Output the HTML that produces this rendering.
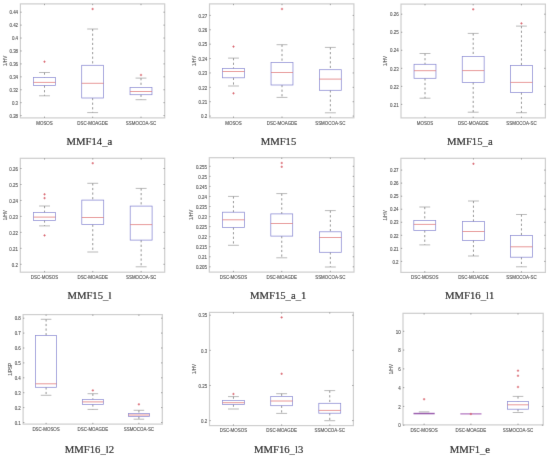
<!DOCTYPE html>
<html><head><meta charset="utf-8"><style>
html,body{margin:0;padding:0;background:#fff;}
svg{display:block;}


.yt,.xt,.yl{font-family:"Liberation Sans",sans-serif;font-size:4.45px;fill:#4a4a4a;stroke:#4a4a4a;stroke-width:0.1px;}
.yt{text-anchor:end;}
.xt{text-anchor:middle;}
.yl{text-anchor:middle;font-size:4.6px;}
.ti{font-family:"Liberation Serif",serif;font-size:10.7px;fill:#111;stroke:#111;stroke-width:0.18px;text-anchor:middle;}
</style></head><body>
<div id="w"><svg width="550" height="457" viewBox="0 0 550 457">
<defs><filter id="bl" x="0" y="0" width="1" height="1"><feConvolveMatrix order="3" kernelMatrix="0 1 0 1 12 1 0 1 0" divisor="16" edgeMode="duplicate"/></filter></defs>
<rect width="550" height="457" fill="#fff"/>
<g filter="url(#bl)">
<rect width="550" height="457" fill="#fff"/>
<rect x="20.40" y="3.90" width="144.30" height="114.00" fill="none" stroke="#cdcdcd" stroke-width="1.2"/>
<path d="M20.40 115.60h1.3M164.70 115.60h-1.3" stroke="#666" stroke-width="0.6"/>
<text x="18.10" y="117.80" class="yt">0.28</text>
<path d="M20.40 102.67h1.3M164.70 102.67h-1.3" stroke="#666" stroke-width="0.6"/>
<text x="18.10" y="104.87" class="yt">0.3</text>
<path d="M20.40 89.75h1.3M164.70 89.75h-1.3" stroke="#666" stroke-width="0.6"/>
<text x="18.10" y="91.95" class="yt">0.32</text>
<path d="M20.40 76.82h1.3M164.70 76.82h-1.3" stroke="#666" stroke-width="0.6"/>
<text x="18.10" y="79.02" class="yt">0.34</text>
<path d="M20.40 63.90h1.3M164.70 63.90h-1.3" stroke="#666" stroke-width="0.6"/>
<text x="18.10" y="66.10" class="yt">0.36</text>
<path d="M20.40 50.98h1.3M164.70 50.98h-1.3" stroke="#666" stroke-width="0.6"/>
<text x="18.10" y="53.18" class="yt">0.38</text>
<path d="M20.40 38.05h1.3M164.70 38.05h-1.3" stroke="#666" stroke-width="0.6"/>
<text x="18.10" y="40.25" class="yt">0.4</text>
<path d="M20.40 25.12h1.3M164.70 25.12h-1.3" stroke="#666" stroke-width="0.6"/>
<text x="18.10" y="27.32" class="yt">0.42</text>
<path d="M20.40 12.20h1.3M164.70 12.20h-1.3" stroke="#666" stroke-width="0.6"/>
<text x="18.10" y="14.40" class="yt">0.44</text>
<path d="M44.50 3.90v1.3M44.50 117.90v-1.3" stroke="#666" stroke-width="0.6"/>
<text x="44.50" y="124.60" class="xt">MOSOS</text>
<path d="M44.50 72.50V77.60" stroke="#757575" stroke-width="0.8" stroke-dasharray="2.2 2.4"/>
<path d="M44.50 85.50V95.80" stroke="#757575" stroke-width="0.8" stroke-dasharray="2.2 2.4"/>
<path d="M39.05 72.50h10.90M39.05 95.80h10.90" stroke="#999999" stroke-width="0.7"/>
<rect x="33.55" y="77.60" width="21.90" height="7.90" fill="none" stroke="#8686d2" stroke-width="0.75"/>
<path d="M33.55 82.40h21.90" stroke="#df7070" stroke-width="0.75"/>
<path d="M43.30 61.70h2.4M44.50 60.50v2.4" stroke="#d85a66" stroke-width="0.8"/>
<path d="M92.65 3.90v1.3M92.65 117.90v-1.3" stroke="#666" stroke-width="0.6"/>
<text x="92.65" y="124.60" class="xt">DSC-MOAGDE</text>
<path d="M92.65 29.00V65.30" stroke="#757575" stroke-width="0.8" stroke-dasharray="2.2 2.4"/>
<path d="M92.65 98.00V112.60" stroke="#757575" stroke-width="0.8" stroke-dasharray="2.2 2.4"/>
<path d="M87.20 29.00h10.90M87.20 112.60h10.90" stroke="#999999" stroke-width="0.7"/>
<rect x="81.70" y="65.30" width="21.90" height="32.70" fill="none" stroke="#8686d2" stroke-width="0.75"/>
<path d="M81.70 83.30h21.90" stroke="#df7070" stroke-width="0.75"/>
<path d="M91.45 9.00h2.4M92.65 7.80v2.4" stroke="#d85a66" stroke-width="0.8"/>
<path d="M141.00 3.90v1.3M141.00 117.90v-1.3" stroke="#666" stroke-width="0.6"/>
<text x="141.00" y="124.60" class="xt">SSMOCOA-SC</text>
<path d="M141.00 78.10V87.40" stroke="#757575" stroke-width="0.8" stroke-dasharray="2.2 2.4"/>
<path d="M141.00 94.70V99.70" stroke="#757575" stroke-width="0.8" stroke-dasharray="2.2 2.4"/>
<path d="M135.55 78.10h10.90M135.55 99.70h10.90" stroke="#999999" stroke-width="0.7"/>
<rect x="130.05" y="87.40" width="21.90" height="7.30" fill="none" stroke="#8686d2" stroke-width="0.75"/>
<path d="M130.05 91.50h21.90" stroke="#df7070" stroke-width="0.75"/>
<path d="M139.80 75.00h2.4M141.00 73.80v2.4" stroke="#d85a66" stroke-width="0.8"/>
<text transform="translate(6.80 60.90) rotate(-90)" class="yl">1/HV</text>
<text x="89.40" y="144.90" class="ti">MMF14_a</text>
<rect x="209.50" y="3.90" width="144.40" height="113.90" fill="none" stroke="#cdcdcd" stroke-width="1.2"/>
<path d="M209.50 116.10h1.3M353.90 116.10h-1.3" stroke="#666" stroke-width="0.6"/>
<text x="207.20" y="118.30" class="yt">0.2</text>
<path d="M209.50 101.71h1.3M353.90 101.71h-1.3" stroke="#666" stroke-width="0.6"/>
<text x="207.20" y="103.91" class="yt">0.21</text>
<path d="M209.50 87.33h1.3M353.90 87.33h-1.3" stroke="#666" stroke-width="0.6"/>
<text x="207.20" y="89.53" class="yt">0.22</text>
<path d="M209.50 72.94h1.3M353.90 72.94h-1.3" stroke="#666" stroke-width="0.6"/>
<text x="207.20" y="75.14" class="yt">0.23</text>
<path d="M209.50 58.56h1.3M353.90 58.56h-1.3" stroke="#666" stroke-width="0.6"/>
<text x="207.20" y="60.76" class="yt">0.24</text>
<path d="M209.50 44.17h1.3M353.90 44.17h-1.3" stroke="#666" stroke-width="0.6"/>
<text x="207.20" y="46.37" class="yt">0.25</text>
<path d="M209.50 29.79h1.3M353.90 29.79h-1.3" stroke="#666" stroke-width="0.6"/>
<text x="207.20" y="31.99" class="yt">0.26</text>
<path d="M209.50 15.40h1.3M353.90 15.40h-1.3" stroke="#666" stroke-width="0.6"/>
<text x="207.20" y="17.60" class="yt">0.27</text>
<path d="M233.50 3.90v1.3M233.50 117.80v-1.3" stroke="#666" stroke-width="0.6"/>
<text x="233.50" y="124.50" class="xt">MOSOS</text>
<path d="M233.50 58.10V68.50" stroke="#757575" stroke-width="0.8" stroke-dasharray="2.2 2.4"/>
<path d="M233.50 77.80V86.00" stroke="#757575" stroke-width="0.8" stroke-dasharray="2.2 2.4"/>
<path d="M228.05 58.10h10.90M228.05 86.00h10.90" stroke="#999999" stroke-width="0.7"/>
<rect x="222.55" y="68.50" width="21.90" height="9.30" fill="none" stroke="#8686d2" stroke-width="0.75"/>
<path d="M222.55 71.50h21.90" stroke="#df7070" stroke-width="0.75"/>
<path d="M232.30 46.60h2.4M233.50 45.40v2.4" stroke="#d85a66" stroke-width="0.8"/>
<path d="M232.30 93.30h2.4M233.50 92.10v2.4" stroke="#d85a66" stroke-width="0.8"/>
<path d="M282.00 3.90v1.3M282.00 117.80v-1.3" stroke="#666" stroke-width="0.6"/>
<text x="282.00" y="124.50" class="xt">DSC-MOAGDE</text>
<path d="M282.00 44.70V62.40" stroke="#757575" stroke-width="0.8" stroke-dasharray="2.2 2.4"/>
<path d="M282.00 85.00V97.40" stroke="#757575" stroke-width="0.8" stroke-dasharray="2.2 2.4"/>
<path d="M276.55 44.70h10.90M276.55 97.40h10.90" stroke="#999999" stroke-width="0.7"/>
<rect x="271.05" y="62.40" width="21.90" height="22.60" fill="none" stroke="#8686d2" stroke-width="0.75"/>
<path d="M271.05 72.50h21.90" stroke="#df7070" stroke-width="0.75"/>
<path d="M280.80 9.00h2.4M282.00 7.80v2.4" stroke="#d85a66" stroke-width="0.8"/>
<path d="M330.35 3.90v1.3M330.35 117.80v-1.3" stroke="#666" stroke-width="0.6"/>
<text x="330.35" y="124.50" class="xt">SSMOCOA-SC</text>
<path d="M330.35 47.40V69.70" stroke="#757575" stroke-width="0.8" stroke-dasharray="2.2 2.4"/>
<path d="M330.35 90.30V112.80" stroke="#757575" stroke-width="0.8" stroke-dasharray="2.2 2.4"/>
<path d="M324.90 47.40h10.90M324.90 112.80h10.90" stroke="#999999" stroke-width="0.7"/>
<rect x="319.40" y="69.70" width="21.90" height="20.60" fill="none" stroke="#8686d2" stroke-width="0.75"/>
<path d="M319.40 79.10h21.90" stroke="#df7070" stroke-width="0.75"/>
<text transform="translate(195.80 60.85) rotate(-90)" class="yl">1/HV</text>
<text x="278.50" y="144.90" class="ti">MMF15</text>
<rect x="401.00" y="4.10" width="144.40" height="113.80" fill="none" stroke="#cdcdcd" stroke-width="1.2"/>
<path d="M401.00 104.40h1.3M545.40 104.40h-1.3" stroke="#666" stroke-width="0.6"/>
<text x="398.70" y="106.60" class="yt">0.21</text>
<path d="M401.00 86.36h1.3M545.40 86.36h-1.3" stroke="#666" stroke-width="0.6"/>
<text x="398.70" y="88.56" class="yt">0.22</text>
<path d="M401.00 68.32h1.3M545.40 68.32h-1.3" stroke="#666" stroke-width="0.6"/>
<text x="398.70" y="70.52" class="yt">0.23</text>
<path d="M401.00 50.28h1.3M545.40 50.28h-1.3" stroke="#666" stroke-width="0.6"/>
<text x="398.70" y="52.48" class="yt">0.24</text>
<path d="M401.00 32.24h1.3M545.40 32.24h-1.3" stroke="#666" stroke-width="0.6"/>
<text x="398.70" y="34.44" class="yt">0.25</text>
<path d="M401.00 14.20h1.3M545.40 14.20h-1.3" stroke="#666" stroke-width="0.6"/>
<text x="398.70" y="16.40" class="yt">0.26</text>
<path d="M425.00 4.10v1.3M425.00 117.90v-1.3" stroke="#666" stroke-width="0.6"/>
<text x="425.00" y="124.60" class="xt">MOSOS</text>
<path d="M425.00 53.50V64.30" stroke="#757575" stroke-width="0.8" stroke-dasharray="2.2 2.4"/>
<path d="M425.00 78.30V98.20" stroke="#757575" stroke-width="0.8" stroke-dasharray="2.2 2.4"/>
<path d="M419.55 53.50h10.90M419.55 98.20h10.90" stroke="#999999" stroke-width="0.7"/>
<rect x="414.05" y="64.30" width="21.90" height="14.00" fill="none" stroke="#8686d2" stroke-width="0.75"/>
<path d="M414.05 70.70h21.90" stroke="#df7070" stroke-width="0.75"/>
<path d="M473.20 4.10v1.3M473.20 117.90v-1.3" stroke="#666" stroke-width="0.6"/>
<text x="473.20" y="124.60" class="xt">DSC-MOAGDE</text>
<path d="M473.20 33.40V56.40" stroke="#757575" stroke-width="0.8" stroke-dasharray="2.2 2.4"/>
<path d="M473.20 82.40V112.20" stroke="#757575" stroke-width="0.8" stroke-dasharray="2.2 2.4"/>
<path d="M467.75 33.40h10.90M467.75 112.20h10.90" stroke="#999999" stroke-width="0.7"/>
<rect x="462.25" y="56.40" width="21.90" height="26.00" fill="none" stroke="#8686d2" stroke-width="0.75"/>
<path d="M462.25 70.60h21.90" stroke="#df7070" stroke-width="0.75"/>
<path d="M472.00 9.30h2.4M473.20 8.10v2.4" stroke="#d85a66" stroke-width="0.8"/>
<path d="M521.45 4.10v1.3M521.45 117.90v-1.3" stroke="#666" stroke-width="0.6"/>
<text x="521.45" y="124.60" class="xt">SSMOCOA-SC</text>
<path d="M521.45 26.10V65.60" stroke="#757575" stroke-width="0.8" stroke-dasharray="2.2 2.4"/>
<path d="M521.45 92.50V112.70" stroke="#757575" stroke-width="0.8" stroke-dasharray="2.2 2.4"/>
<path d="M516.00 26.10h10.90M516.00 112.70h10.90" stroke="#999999" stroke-width="0.7"/>
<rect x="510.50" y="65.60" width="21.90" height="26.90" fill="none" stroke="#8686d2" stroke-width="0.75"/>
<path d="M510.50 82.40h21.90" stroke="#df7070" stroke-width="0.75"/>
<path d="M520.25 23.40h2.4M521.45 22.20v2.4" stroke="#d85a66" stroke-width="0.8"/>
<text transform="translate(387.40 61.00) rotate(-90)" class="yl">1/HV</text>
<text x="469.80" y="144.90" class="ti">MMF15_a</text>
<rect x="20.30" y="158.30" width="144.40" height="113.90" fill="none" stroke="#cdcdcd" stroke-width="1.2"/>
<path d="M20.30 264.30h1.3M164.70 264.30h-1.3" stroke="#666" stroke-width="0.6"/>
<text x="18.00" y="266.50" class="yt">0.2</text>
<path d="M20.30 248.33h1.3M164.70 248.33h-1.3" stroke="#666" stroke-width="0.6"/>
<text x="18.00" y="250.53" class="yt">0.21</text>
<path d="M20.30 232.37h1.3M164.70 232.37h-1.3" stroke="#666" stroke-width="0.6"/>
<text x="18.00" y="234.57" class="yt">0.22</text>
<path d="M20.30 216.40h1.3M164.70 216.40h-1.3" stroke="#666" stroke-width="0.6"/>
<text x="18.00" y="218.60" class="yt">0.23</text>
<path d="M20.30 200.43h1.3M164.70 200.43h-1.3" stroke="#666" stroke-width="0.6"/>
<text x="18.00" y="202.63" class="yt">0.24</text>
<path d="M20.30 184.47h1.3M164.70 184.47h-1.3" stroke="#666" stroke-width="0.6"/>
<text x="18.00" y="186.67" class="yt">0.25</text>
<path d="M20.30 168.50h1.3M164.70 168.50h-1.3" stroke="#666" stroke-width="0.6"/>
<text x="18.00" y="170.70" class="yt">0.26</text>
<path d="M44.55 158.30v1.3M44.55 272.20v-1.3" stroke="#666" stroke-width="0.6"/>
<text x="44.55" y="278.90" class="xt">DSC-MOSOS</text>
<path d="M44.55 206.00V212.40" stroke="#757575" stroke-width="0.8" stroke-dasharray="2.2 2.4"/>
<path d="M44.55 220.40V225.90" stroke="#757575" stroke-width="0.8" stroke-dasharray="2.2 2.4"/>
<path d="M39.10 206.00h10.90M39.10 225.90h10.90" stroke="#999999" stroke-width="0.7"/>
<rect x="33.60" y="212.40" width="21.90" height="8.00" fill="none" stroke="#8686d2" stroke-width="0.75"/>
<path d="M33.60 217.10h21.90" stroke="#df7070" stroke-width="0.75"/>
<path d="M43.35 194.30h2.4M44.55 193.10v2.4" stroke="#d85a66" stroke-width="0.8"/>
<path d="M43.35 198.10h2.4M44.55 196.90v2.4" stroke="#d85a66" stroke-width="0.8"/>
<path d="M43.35 235.40h2.4M44.55 234.20v2.4" stroke="#d85a66" stroke-width="0.8"/>
<path d="M92.75 158.30v1.3M92.75 272.20v-1.3" stroke="#666" stroke-width="0.6"/>
<text x="92.75" y="278.90" class="xt">DSC-MOAGDE</text>
<path d="M92.75 183.30V200.10" stroke="#757575" stroke-width="0.8" stroke-dasharray="2.2 2.4"/>
<path d="M92.75 224.60V252.00" stroke="#757575" stroke-width="0.8" stroke-dasharray="2.2 2.4"/>
<path d="M87.30 183.30h10.90M87.30 252.00h10.90" stroke="#999999" stroke-width="0.7"/>
<rect x="81.80" y="200.10" width="21.90" height="24.50" fill="none" stroke="#8686d2" stroke-width="0.75"/>
<path d="M81.80 217.50h21.90" stroke="#df7070" stroke-width="0.75"/>
<path d="M91.55 163.20h2.4M92.75 162.00v2.4" stroke="#d85a66" stroke-width="0.8"/>
<path d="M141.15 158.30v1.3M141.15 272.20v-1.3" stroke="#666" stroke-width="0.6"/>
<text x="141.15" y="278.90" class="xt">SSMOCOA-SC</text>
<path d="M141.15 188.40V206.10" stroke="#757575" stroke-width="0.8" stroke-dasharray="2.2 2.4"/>
<path d="M141.15 240.10V266.80" stroke="#757575" stroke-width="0.8" stroke-dasharray="2.2 2.4"/>
<path d="M135.70 188.40h10.90M135.70 266.80h10.90" stroke="#999999" stroke-width="0.7"/>
<rect x="130.20" y="206.10" width="21.90" height="34.00" fill="none" stroke="#8686d2" stroke-width="0.75"/>
<path d="M130.20 224.60h21.90" stroke="#df7070" stroke-width="0.75"/>
<text transform="translate(6.70 215.25) rotate(-90)" class="yl">1/HV</text>
<text x="89.40" y="298.90" class="ti">MMF15_l</text>
<rect x="209.30" y="157.70" width="144.70" height="114.40" fill="none" stroke="#cdcdcd" stroke-width="1.2"/>
<path d="M209.30 266.80h1.3M354.00 266.80h-1.3" stroke="#666" stroke-width="0.6"/>
<text x="207.00" y="269.00" class="yt">0.205</text>
<path d="M209.30 256.75h1.3M354.00 256.75h-1.3" stroke="#666" stroke-width="0.6"/>
<text x="207.00" y="258.95" class="yt">0.21</text>
<path d="M209.30 246.70h1.3M354.00 246.70h-1.3" stroke="#666" stroke-width="0.6"/>
<text x="207.00" y="248.90" class="yt">0.215</text>
<path d="M209.30 236.65h1.3M354.00 236.65h-1.3" stroke="#666" stroke-width="0.6"/>
<text x="207.00" y="238.85" class="yt">0.22</text>
<path d="M209.30 226.60h1.3M354.00 226.60h-1.3" stroke="#666" stroke-width="0.6"/>
<text x="207.00" y="228.80" class="yt">0.225</text>
<path d="M209.30 216.55h1.3M354.00 216.55h-1.3" stroke="#666" stroke-width="0.6"/>
<text x="207.00" y="218.75" class="yt">0.23</text>
<path d="M209.30 206.50h1.3M354.00 206.50h-1.3" stroke="#666" stroke-width="0.6"/>
<text x="207.00" y="208.70" class="yt">0.235</text>
<path d="M209.30 196.45h1.3M354.00 196.45h-1.3" stroke="#666" stroke-width="0.6"/>
<text x="207.00" y="198.65" class="yt">0.24</text>
<path d="M209.30 186.40h1.3M354.00 186.40h-1.3" stroke="#666" stroke-width="0.6"/>
<text x="207.00" y="188.60" class="yt">0.245</text>
<path d="M209.30 176.35h1.3M354.00 176.35h-1.3" stroke="#666" stroke-width="0.6"/>
<text x="207.00" y="178.55" class="yt">0.25</text>
<path d="M209.30 166.30h1.3M354.00 166.30h-1.3" stroke="#666" stroke-width="0.6"/>
<text x="207.00" y="168.50" class="yt">0.255</text>
<path d="M233.45 157.70v1.3M233.45 272.10v-1.3" stroke="#666" stroke-width="0.6"/>
<text x="233.45" y="278.80" class="xt">DSC-MOSOS</text>
<path d="M233.45 196.40V212.20" stroke="#757575" stroke-width="0.8" stroke-dasharray="2.2 2.4"/>
<path d="M233.45 227.50V245.30" stroke="#757575" stroke-width="0.8" stroke-dasharray="2.2 2.4"/>
<path d="M228.00 196.40h10.90M228.00 245.30h10.90" stroke="#999999" stroke-width="0.7"/>
<rect x="222.50" y="212.20" width="21.90" height="15.30" fill="none" stroke="#8686d2" stroke-width="0.75"/>
<path d="M222.50 219.80h21.90" stroke="#df7070" stroke-width="0.75"/>
<path d="M281.75 157.70v1.3M281.75 272.10v-1.3" stroke="#666" stroke-width="0.6"/>
<text x="281.75" y="278.80" class="xt">DSC-MOAGDE</text>
<path d="M281.75 193.60V213.90" stroke="#757575" stroke-width="0.8" stroke-dasharray="2.2 2.4"/>
<path d="M281.75 236.10V257.80" stroke="#757575" stroke-width="0.8" stroke-dasharray="2.2 2.4"/>
<path d="M276.30 193.60h10.90M276.30 257.80h10.90" stroke="#999999" stroke-width="0.7"/>
<rect x="270.80" y="213.90" width="21.90" height="22.20" fill="none" stroke="#8686d2" stroke-width="0.75"/>
<path d="M270.80 223.50h21.90" stroke="#df7070" stroke-width="0.75"/>
<path d="M280.55 163.00h2.4M281.75 161.80v2.4" stroke="#d85a66" stroke-width="0.8"/>
<path d="M280.55 166.80h2.4M281.75 165.60v2.4" stroke="#d85a66" stroke-width="0.8"/>
<path d="M330.35 157.70v1.3M330.35 272.10v-1.3" stroke="#666" stroke-width="0.6"/>
<text x="330.35" y="278.80" class="xt">SSMOCOA-SC</text>
<path d="M330.35 210.60V231.80" stroke="#757575" stroke-width="0.8" stroke-dasharray="2.2 2.4"/>
<path d="M330.35 252.30V267.00" stroke="#757575" stroke-width="0.8" stroke-dasharray="2.2 2.4"/>
<path d="M324.90 210.60h10.90M324.90 267.00h10.90" stroke="#999999" stroke-width="0.7"/>
<rect x="319.40" y="231.80" width="21.90" height="20.50" fill="none" stroke="#8686d2" stroke-width="0.75"/>
<path d="M319.40 237.50h21.90" stroke="#df7070" stroke-width="0.75"/>
<text transform="translate(193.30 214.90) rotate(-90)" class="yl">1/HV</text>
<text x="278.20" y="298.90" class="ti">MMF15_a_1</text>
<rect x="400.90" y="158.30" width="144.50" height="114.10" fill="none" stroke="#cdcdcd" stroke-width="1.2"/>
<path d="M400.90 261.40h1.3M545.40 261.40h-1.3" stroke="#666" stroke-width="0.6"/>
<text x="398.60" y="263.60" class="yt">0.2</text>
<path d="M400.90 248.36h1.3M545.40 248.36h-1.3" stroke="#666" stroke-width="0.6"/>
<text x="398.60" y="250.56" class="yt">0.21</text>
<path d="M400.90 235.31h1.3M545.40 235.31h-1.3" stroke="#666" stroke-width="0.6"/>
<text x="398.60" y="237.51" class="yt">0.22</text>
<path d="M400.90 222.27h1.3M545.40 222.27h-1.3" stroke="#666" stroke-width="0.6"/>
<text x="398.60" y="224.47" class="yt">0.23</text>
<path d="M400.90 209.23h1.3M545.40 209.23h-1.3" stroke="#666" stroke-width="0.6"/>
<text x="398.60" y="211.43" class="yt">0.24</text>
<path d="M400.90 196.19h1.3M545.40 196.19h-1.3" stroke="#666" stroke-width="0.6"/>
<text x="398.60" y="198.39" class="yt">0.25</text>
<path d="M400.90 183.14h1.3M545.40 183.14h-1.3" stroke="#666" stroke-width="0.6"/>
<text x="398.60" y="185.34" class="yt">0.26</text>
<path d="M400.90 170.10h1.3M545.40 170.10h-1.3" stroke="#666" stroke-width="0.6"/>
<text x="398.60" y="172.30" class="yt">0.27</text>
<path d="M424.75 158.30v1.3M424.75 272.40v-1.3" stroke="#666" stroke-width="0.6"/>
<text x="424.75" y="279.10" class="xt">DSC-MOSOS</text>
<path d="M424.75 207.00V220.50" stroke="#757575" stroke-width="0.8" stroke-dasharray="2.2 2.4"/>
<path d="M424.75 230.40V244.90" stroke="#757575" stroke-width="0.8" stroke-dasharray="2.2 2.4"/>
<path d="M419.30 207.00h10.90M419.30 244.90h10.90" stroke="#999999" stroke-width="0.7"/>
<rect x="413.80" y="220.50" width="21.90" height="9.90" fill="none" stroke="#8686d2" stroke-width="0.75"/>
<path d="M413.80 224.40h21.90" stroke="#df7070" stroke-width="0.75"/>
<path d="M473.45 158.30v1.3M473.45 272.40v-1.3" stroke="#666" stroke-width="0.6"/>
<text x="473.45" y="279.10" class="xt">DSC-MOAGDE</text>
<path d="M473.45 201.00V221.60" stroke="#757575" stroke-width="0.8" stroke-dasharray="2.2 2.4"/>
<path d="M473.45 240.40V256.00" stroke="#757575" stroke-width="0.8" stroke-dasharray="2.2 2.4"/>
<path d="M468.00 201.00h10.90M468.00 256.00h10.90" stroke="#999999" stroke-width="0.7"/>
<rect x="462.50" y="221.60" width="21.90" height="18.80" fill="none" stroke="#8686d2" stroke-width="0.75"/>
<path d="M462.50 231.50h21.90" stroke="#df7070" stroke-width="0.75"/>
<path d="M472.25 163.80h2.4M473.45 162.60v2.4" stroke="#d85a66" stroke-width="0.8"/>
<path d="M521.45 158.30v1.3M521.45 272.40v-1.3" stroke="#666" stroke-width="0.6"/>
<text x="521.45" y="279.10" class="xt">SSMOCOA-SC</text>
<path d="M521.45 214.50V235.40" stroke="#757575" stroke-width="0.8" stroke-dasharray="2.2 2.4"/>
<path d="M521.45 257.20V266.80" stroke="#757575" stroke-width="0.8" stroke-dasharray="2.2 2.4"/>
<path d="M516.00 214.50h10.90M516.00 266.80h10.90" stroke="#999999" stroke-width="0.7"/>
<rect x="510.50" y="235.40" width="21.90" height="21.80" fill="none" stroke="#8686d2" stroke-width="0.75"/>
<path d="M510.50 246.80h21.90" stroke="#df7070" stroke-width="0.75"/>
<text transform="translate(387.40 215.35) rotate(-90)" class="yl">1/HV</text>
<text x="469.70" y="298.90" class="ti">MMF16_l1</text>
<rect x="23.10" y="314.60" width="139.20" height="109.50" fill="none" stroke="#cdcdcd" stroke-width="1.2"/>
<path d="M23.10 422.50h1.3M162.30 422.50h-1.3" stroke="#666" stroke-width="0.6"/>
<text x="20.80" y="424.70" class="yt">0.1</text>
<path d="M23.10 407.60h1.3M162.30 407.60h-1.3" stroke="#666" stroke-width="0.6"/>
<text x="20.80" y="409.80" class="yt">0.2</text>
<path d="M23.10 392.70h1.3M162.30 392.70h-1.3" stroke="#666" stroke-width="0.6"/>
<text x="20.80" y="394.90" class="yt">0.3</text>
<path d="M23.10 377.80h1.3M162.30 377.80h-1.3" stroke="#666" stroke-width="0.6"/>
<text x="20.80" y="380.00" class="yt">0.4</text>
<path d="M23.10 362.90h1.3M162.30 362.90h-1.3" stroke="#666" stroke-width="0.6"/>
<text x="20.80" y="365.10" class="yt">0.5</text>
<path d="M23.10 348.00h1.3M162.30 348.00h-1.3" stroke="#666" stroke-width="0.6"/>
<text x="20.80" y="350.20" class="yt">0.6</text>
<path d="M23.10 333.10h1.3M162.30 333.10h-1.3" stroke="#666" stroke-width="0.6"/>
<text x="20.80" y="335.30" class="yt">0.7</text>
<path d="M23.10 318.20h1.3M162.30 318.20h-1.3" stroke="#666" stroke-width="0.6"/>
<text x="20.80" y="320.40" class="yt">0.8</text>
<path d="M46.10 314.60v1.3M46.10 424.10v-1.3" stroke="#666" stroke-width="0.6"/>
<text x="46.10" y="430.80" class="xt">DSC-MOSOS</text>
<path d="M46.10 319.30V335.50" stroke="#757575" stroke-width="0.8" stroke-dasharray="2.2 2.4"/>
<path d="M46.10 387.30V395.30" stroke="#757575" stroke-width="0.8" stroke-dasharray="2.2 2.4"/>
<path d="M40.80 319.30h10.60M40.80 395.30h10.60" stroke="#999999" stroke-width="0.7"/>
<rect x="35.60" y="335.50" width="21.00" height="51.80" fill="none" stroke="#8686d2" stroke-width="0.75"/>
<path d="M35.60 383.80h21.00" stroke="#df7070" stroke-width="0.75"/>
<path d="M92.85 314.60v1.3M92.85 424.10v-1.3" stroke="#666" stroke-width="0.6"/>
<text x="92.85" y="430.80" class="xt">DSC-MOAGDE</text>
<path d="M92.85 393.70V399.50" stroke="#757575" stroke-width="0.8" stroke-dasharray="2.2 2.4"/>
<path d="M92.85 404.40V409.40" stroke="#757575" stroke-width="0.8" stroke-dasharray="2.2 2.4"/>
<path d="M87.55 393.70h10.60M87.55 409.40h10.60" stroke="#999999" stroke-width="0.7"/>
<rect x="82.35" y="399.50" width="21.00" height="4.90" fill="none" stroke="#8686d2" stroke-width="0.75"/>
<path d="M82.35 401.90h21.00" stroke="#df7070" stroke-width="0.75"/>
<path d="M91.65 390.40h2.4M92.85 389.20v2.4" stroke="#d85a66" stroke-width="0.8"/>
<path d="M138.90 314.60v1.3M138.90 424.10v-1.3" stroke="#666" stroke-width="0.6"/>
<text x="138.90" y="430.80" class="xt">SSMOCOA-SC</text>
<path d="M138.90 410.30V413.40" stroke="#757575" stroke-width="0.8" stroke-dasharray="2.2 2.4"/>
<path d="M138.90 416.60V419.20" stroke="#757575" stroke-width="0.8" stroke-dasharray="2.2 2.4"/>
<path d="M133.60 410.30h10.60M133.60 419.20h10.60" stroke="#999999" stroke-width="0.7"/>
<rect x="128.40" y="413.40" width="21.00" height="3.20" fill="none" stroke="#8686d2" stroke-width="0.75"/>
<path d="M128.40 415.00h21.00" stroke="#df7070" stroke-width="0.75"/>
<path d="M137.70 404.30h2.4M138.90 403.10v2.4" stroke="#d85a66" stroke-width="0.8"/>
<text transform="translate(12.00 369.35) rotate(-90)" class="yl">1/PSP</text>
<text x="89.45" y="452.80" class="ti">MMF16_l2</text>
<rect x="209.50" y="312.40" width="143.90" height="113.20" fill="none" stroke="#cdcdcd" stroke-width="1.2"/>
<path d="M209.50 420.60h1.3M353.40 420.60h-1.3" stroke="#666" stroke-width="0.6"/>
<text x="207.20" y="422.80" class="yt">0.2</text>
<path d="M209.50 385.47h1.3M353.40 385.47h-1.3" stroke="#666" stroke-width="0.6"/>
<text x="207.20" y="387.67" class="yt">0.25</text>
<path d="M209.50 350.33h1.3M353.40 350.33h-1.3" stroke="#666" stroke-width="0.6"/>
<text x="207.20" y="352.53" class="yt">0.3</text>
<path d="M209.50 315.20h1.3M353.40 315.20h-1.3" stroke="#666" stroke-width="0.6"/>
<text x="207.20" y="317.40" class="yt">0.35</text>
<path d="M233.45 312.40v1.3M233.45 425.60v-1.3" stroke="#666" stroke-width="0.6"/>
<text x="233.45" y="432.30" class="xt">DSC-MOSOS</text>
<path d="M233.45 396.60V400.60" stroke="#757575" stroke-width="0.8" stroke-dasharray="2.2 2.4"/>
<path d="M233.45 404.60V409.00" stroke="#757575" stroke-width="0.8" stroke-dasharray="2.2 2.4"/>
<path d="M228.00 396.60h10.90M228.00 409.00h10.90" stroke="#999999" stroke-width="0.7"/>
<rect x="222.50" y="400.60" width="21.90" height="4.00" fill="none" stroke="#8686d2" stroke-width="0.75"/>
<path d="M222.50 402.70h21.90" stroke="#df7070" stroke-width="0.75"/>
<path d="M232.25 394.00h2.4M233.45 392.80v2.4" stroke="#d85a66" stroke-width="0.8"/>
<path d="M281.65 312.40v1.3M281.65 425.60v-1.3" stroke="#666" stroke-width="0.6"/>
<text x="281.65" y="432.30" class="xt">DSC-MOAGDE</text>
<path d="M281.65 393.70V396.40" stroke="#757575" stroke-width="0.8" stroke-dasharray="2.2 2.4"/>
<path d="M281.65 405.70V413.40" stroke="#757575" stroke-width="0.8" stroke-dasharray="2.2 2.4"/>
<path d="M276.20 393.70h10.90M276.20 413.40h10.90" stroke="#999999" stroke-width="0.7"/>
<rect x="270.70" y="396.40" width="21.90" height="9.30" fill="none" stroke="#8686d2" stroke-width="0.75"/>
<path d="M270.70 401.00h21.90" stroke="#df7070" stroke-width="0.75"/>
<path d="M280.45 317.40h2.4M281.65 316.20v2.4" stroke="#d85a66" stroke-width="0.8"/>
<path d="M280.45 373.80h2.4M281.65 372.60v2.4" stroke="#d85a66" stroke-width="0.8"/>
<path d="M329.75 312.40v1.3M329.75 425.60v-1.3" stroke="#666" stroke-width="0.6"/>
<text x="329.75" y="432.30" class="xt">SSMOCOA-SC</text>
<path d="M329.75 390.60V403.30" stroke="#757575" stroke-width="0.8" stroke-dasharray="2.2 2.4"/>
<path d="M329.75 413.20V420.70" stroke="#757575" stroke-width="0.8" stroke-dasharray="2.2 2.4"/>
<path d="M324.30 390.60h10.90M324.30 420.70h10.90" stroke="#999999" stroke-width="0.7"/>
<rect x="318.80" y="403.30" width="21.90" height="9.90" fill="none" stroke="#8686d2" stroke-width="0.75"/>
<path d="M318.80 410.40h21.90" stroke="#df7070" stroke-width="0.75"/>
<text transform="translate(195.60 369.00) rotate(-90)" class="yl">1/HV</text>
<text x="278.60" y="452.50" class="ti">MMF16_l3</text>
<rect x="403.00" y="313.30" width="140.20" height="111.60" fill="none" stroke="#cdcdcd" stroke-width="1.2"/>
<path d="M403.00 425.20h1.3M543.20 425.20h-1.3" stroke="#666" stroke-width="0.6"/>
<text x="400.70" y="427.40" class="yt">0</text>
<path d="M403.00 406.42h1.3M543.20 406.42h-1.3" stroke="#666" stroke-width="0.6"/>
<text x="400.70" y="408.62" class="yt">2</text>
<path d="M403.00 387.64h1.3M543.20 387.64h-1.3" stroke="#666" stroke-width="0.6"/>
<text x="400.70" y="389.84" class="yt">4</text>
<path d="M403.00 368.86h1.3M543.20 368.86h-1.3" stroke="#666" stroke-width="0.6"/>
<text x="400.70" y="371.06" class="yt">6</text>
<path d="M403.00 350.08h1.3M543.20 350.08h-1.3" stroke="#666" stroke-width="0.6"/>
<text x="400.70" y="352.28" class="yt">8</text>
<path d="M403.00 331.30h1.3M543.20 331.30h-1.3" stroke="#666" stroke-width="0.6"/>
<text x="400.70" y="333.50" class="yt">10</text>
<path d="M424.10 313.30v1.3M424.10 424.90v-1.3" stroke="#666" stroke-width="0.6"/>
<text x="424.10" y="431.60" class="xt">DSC-MOSOS</text>
<path d="M418.80 411.90h10.60" stroke="#b5b5b5" stroke-width="1.0"/>
<rect x="413.50" y="412.80" width="21.20" height="1.50" fill="#9a55ad"/>
<path d="M422.90 399.20h2.4M424.10 398.00v2.4" stroke="#d85a66" stroke-width="0.8"/>
<path d="M470.90 313.30v1.3M470.90 424.90v-1.3" stroke="#666" stroke-width="0.6"/>
<text x="470.90" y="431.60" class="xt">DSC-MOAGDE</text>
<rect x="460.30" y="413.10" width="21.20" height="1.50" fill="#c08ccc"/>
<path d="M469.70 414.00h2.4M470.90 412.80v2.4" stroke="#d85a66" stroke-width="0.8"/>
<path d="M518.00 313.30v1.3M518.00 424.90v-1.3" stroke="#666" stroke-width="0.6"/>
<text x="518.00" y="431.60" class="xt">SSMOCOA-SC</text>
<path d="M518.00 396.40V401.50" stroke="#757575" stroke-width="0.8" stroke-dasharray="2.2 2.4"/>
<path d="M518.00 409.20V412.50" stroke="#757575" stroke-width="0.8" stroke-dasharray="2.2 2.4"/>
<path d="M512.70 396.40h10.60M512.70 412.50h10.60" stroke="#999999" stroke-width="0.7"/>
<rect x="507.40" y="401.50" width="21.20" height="7.70" fill="none" stroke="#8686d2" stroke-width="0.75"/>
<path d="M507.40 404.80h21.20" stroke="#df7070" stroke-width="0.75"/>
<path d="M516.80 370.70h2.4M518.00 369.50v2.4" stroke="#d85a66" stroke-width="0.8"/>
<path d="M516.80 375.80h2.4M518.00 374.60v2.4" stroke="#d85a66" stroke-width="0.8"/>
<path d="M516.80 387.00h2.4M518.00 385.80v2.4" stroke="#d85a66" stroke-width="0.8"/>
<text transform="translate(393.20 369.10) rotate(-90)" class="yl">1/HV</text>
<text x="469.90" y="452.50" class="ti">MMF1_e</text>
</g>
</svg></div>
</body></html>
